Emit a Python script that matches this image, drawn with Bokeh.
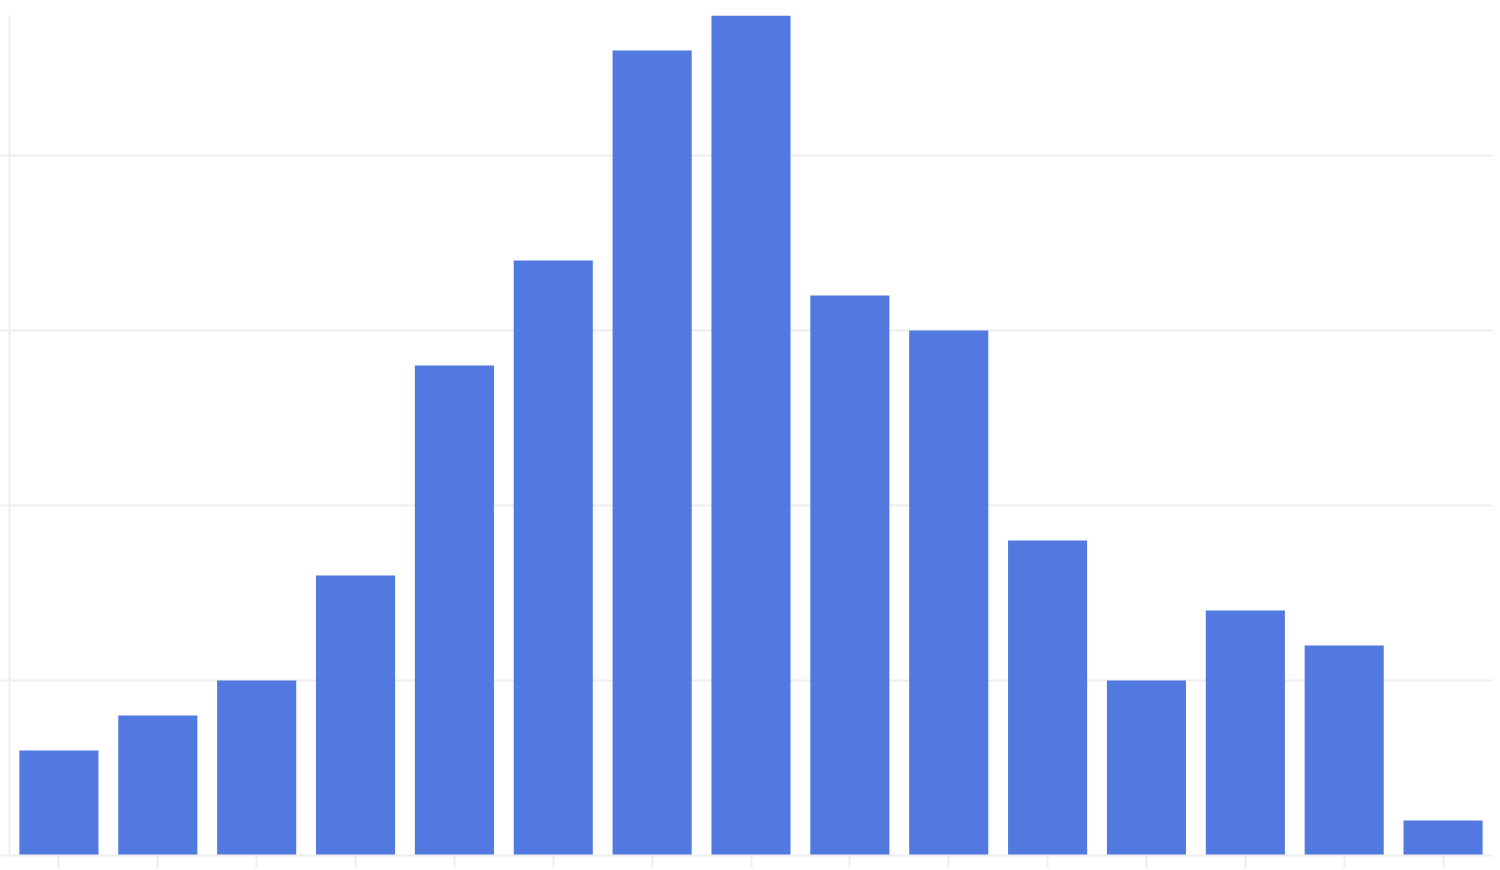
from bokeh.plotting import figure
from bokeh.models import FixedTicker, Range1d
from bokeh.embed import file_html
from bokeh.resources import INLINE

positions = list(range(1, 16))
values = [3, 4, 5, 8, 14, 17, 23, 24, 16, 15, 9, 5, 7, 6, 1]
y_ticks = [0, 5, 10, 15, 20]

GRID = "#eeeeee"

p = figure(output_backend="svg", toolbar_location=None,
           frame_width=1483, frame_height=840,
           min_border_left=0, min_border_right=8, min_border_top=15, min_border_bottom=0,
           x_range=Range1d(0.5, 15.5), y_range=Range1d(0, 24))
p.outline_line_color = None
p.background_fill_color = "white"
p.border_fill_color = "white"

p.vbar(x=positions, top=values, width=0.8, bottom=0,
       fill_color="#5279e0", line_color=None)

p.ygrid.ticker = FixedTicker(ticks=y_ticks)
p.ygrid.grid_line_color = GRID
p.ygrid.grid_line_width = 2
p.xgrid.visible = False

p.xaxis.ticker = FixedTicker(ticks=positions)
p.xaxis.major_label_overrides = {t: "" for t in positions}
p.xaxis.major_label_standoff = 0
p.xaxis.axis_line_color = GRID
p.xaxis.axis_line_width = 2
p.xaxis.major_tick_line_color = GRID
p.xaxis.major_tick_line_width = 2
p.xaxis.major_tick_in = 0
p.xaxis.major_tick_out = 13
p.xaxis.minor_tick_line_color = None

p.yaxis.ticker = FixedTicker(ticks=y_ticks)
p.yaxis.major_label_overrides = {t: "" for t in y_ticks}
p.yaxis.major_label_standoff = 0
p.yaxis.axis_line_color = GRID
p.yaxis.axis_line_width = 2
p.yaxis.major_tick_line_color = GRID
p.yaxis.major_tick_line_width = 2
p.yaxis.major_tick_in = 0
p.yaxis.major_tick_out = 9
p.yaxis.minor_tick_line_color = None

open("out.html", "w").write(file_html(p, INLINE))
